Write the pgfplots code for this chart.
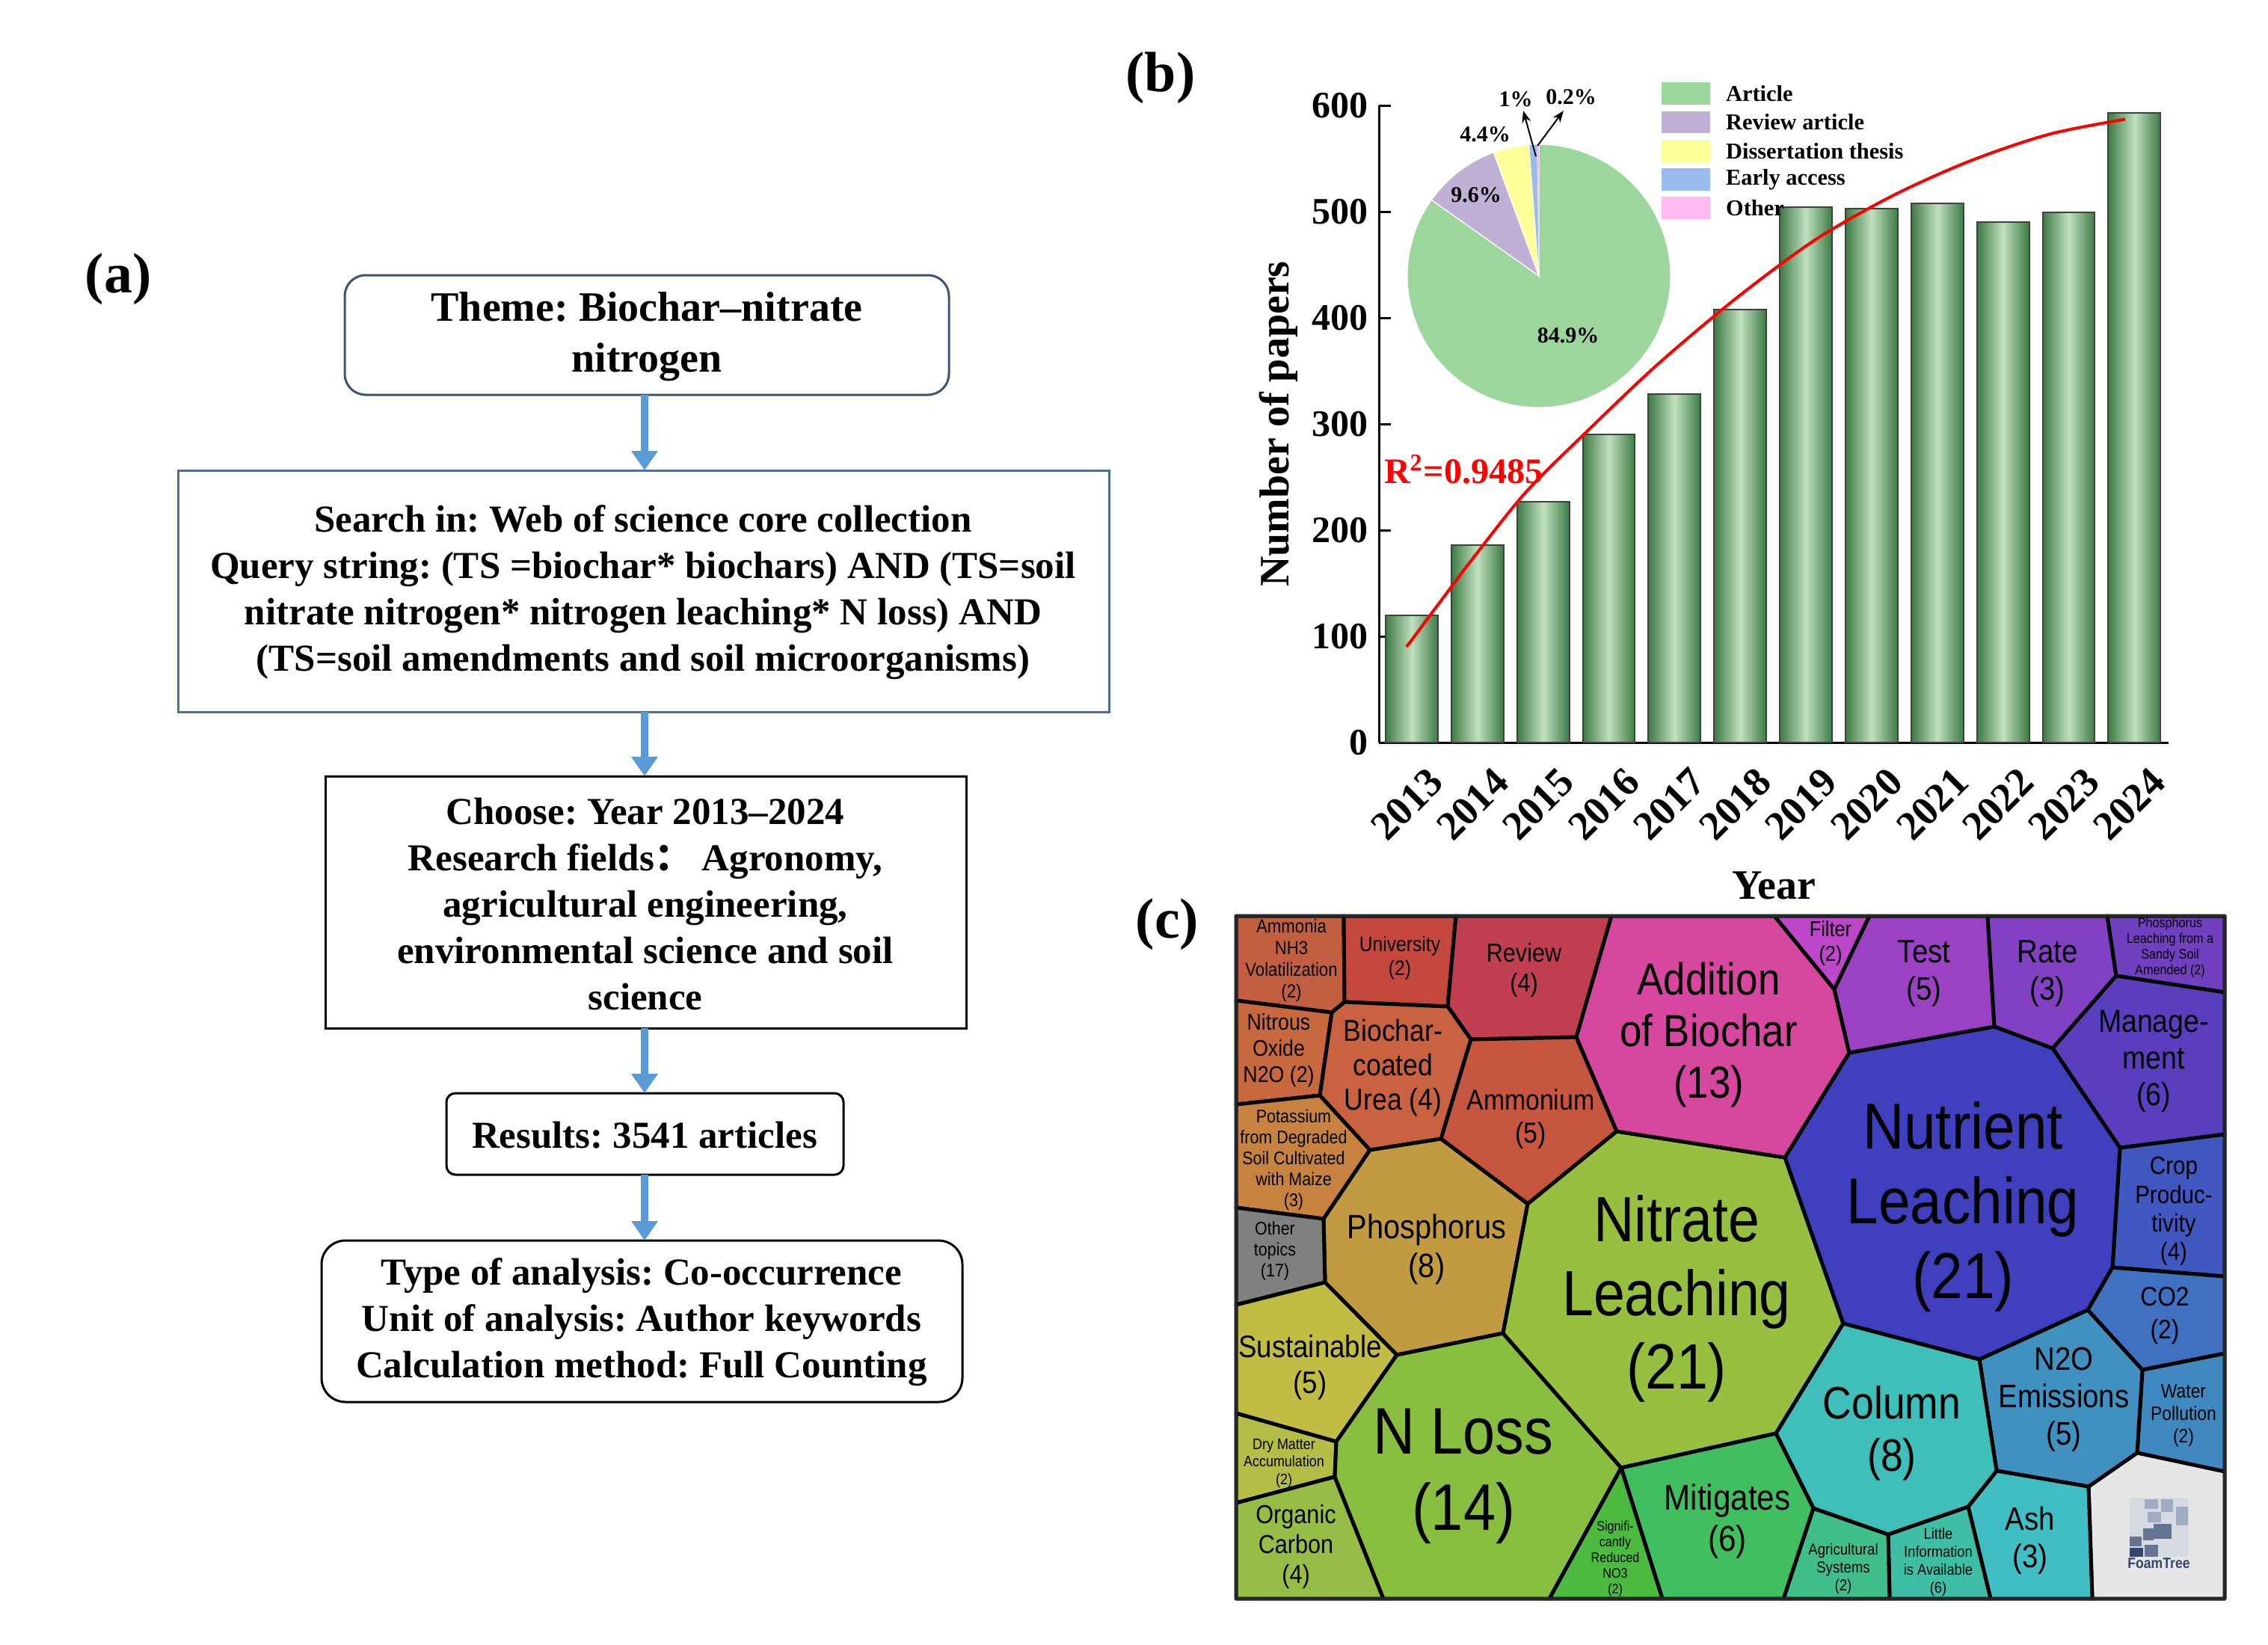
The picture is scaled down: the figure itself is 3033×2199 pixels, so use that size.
\documentclass[border=0pt]{standalone}
\usepackage{fontspec}
\setmainfont{Liberation Serif}
\newfontfamily\tfont[FakeStretch=0.88]{Liberation Sans}
\newfontfamily\cjk{Noto Sans CJK SC}
\usepackage{pgfplots}
\pgfplotsset{compat=1.18}
\usetikzlibrary{arrows.meta}
\newcommand\fsz[2]{\fontsize{#1pt}{#2pt}\selectfont}
\frenchspacing

% bars and pie
\definecolor{gdark}{RGB}{62,122,68}
\definecolor{glight}{RGB}{192,224,192}
\definecolor{cArt}{RGB}{156,214,156}
\definecolor{cRevA}{RGB}{192,176,214}
\definecolor{cDis}{RGB}{255,255,153}
\definecolor{cEar}{RGB}{153,187,238}
\definecolor{cOthA}{RGB}{255,187,240}
% flowchart
\definecolor{arrowblue}{RGB}{91,155,213}
\definecolor{boxA}{RGB}{59,84,112}
\definecolor{boxB}{RGB}{79,111,143}
% treemap
\definecolor{cAmm}{RGB}{195,95,65}
\definecolor{cUni}{RGB}{196,72,62}
\definecolor{cRev}{RGB}{192,64,82}
\definecolor{cNit}{RGB}{200,104,62}
\definecolor{cBio}{RGB}{200,98,64}
\definecolor{cAmmo}{RGB}{198,86,64}
\definecolor{cPot}{RGB}{200,130,64}
\definecolor{cPho}{RGB}{194,154,66}
\definecolor{cOth}{RGB}{128,128,128}
\definecolor{cSus}{RGB}{192,188,68}
\definecolor{cDry}{RGB}{180,190,70}
\definecolor{cOrg}{RGB}{150,190,70}
\definecolor{cNL}{RGB}{138,190,64}
\definecolor{cNtr}{RGB}{152,192,64}
\definecolor{cAdd}{RGB}{214,72,160}
\definecolor{cFil}{RGB}{190,70,200}
\definecolor{cTes}{RGB}{155,65,195}
\definecolor{cRat}{RGB}{130,65,195}
\definecolor{cPL}{RGB}{112,64,190}
\definecolor{cMan}{RGB}{90,62,190}
\definecolor{cCro}{RGB}{64,88,192}
\definecolor{cNut}{RGB}{64,64,190}
\definecolor{cCO}{RGB}{64,112,192}
\definecolor{cWat}{RGB}{64,136,192}
\definecolor{cN2O}{RGB}{64,144,192}
\definecolor{cFoam}{RGB}{230,230,230}
\definecolor{cAsh}{RGB}{64,190,196}
\definecolor{cLit}{RGB}{64,190,165}
\definecolor{cAgr}{RGB}{64,190,140}
\definecolor{cCol}{RGB}{64,190,186}
\definecolor{cMit}{RGB}{64,190,96}
\definecolor{cSig}{RGB}{76,186,64}
\definecolor{logoA}{RGB}{52,70,110}
\definecolor{logoB}{RGB}{100,116,146}
\definecolor{logoC}{RGB}{160,172,194}
\definecolor{logoD}{RGB}{214,218,226}

\pgfplotsset{
  gbar/.style={ybar, bar width=0.795, bar shift=0pt, draw=black!75, line width=0.5pt,
    left color=gdark, right color=gdark, middle color=glight},
  cell/.style={draw=black, line width=1.25pt, line join=round, fill=#1},
}

\begin{document}
\begin{tikzpicture}
\begin{scope}[x=0.25pt,y=-0.25pt]
\path[use as bounding box] (0,0) rectangle (3033,2199);

%% ---------------- (a) flowchart ----------------
\node[font=\bfseries\fsz{19}{19}] at (158,373) {(a)};
\begin{scope}[line width=0.75pt]
\draw[boxA, rounded corners=7pt] (461,368) rectangle (1269,528);
\node[font=\bfseries\fsz{14}{17}, align=center] at (865,450) {Theme: Biochar–nitrate\\nitrogen};
\draw[boxB] (238,629) rectangle (1483,952);
\node[font=\bfseries\fsz{12.75}{15.5}, align=center] at (860,792) {Search in: Web of science core collection\\Query string: (TS =biochar* biochars) AND (TS=soil\\nitrate nitrogen* nitrogen leaching* N loss) AND\\(TS=soil amendments and soil microorganisms)};
\draw[black] (435,1038) rectangle (1292,1375);
\node[font=\bfseries\fsz{12.75}{15.5}, align=center] at (863,1209) {Choose: Year 2013–2024\\Research fields{\cjk ：}\hspace{0.25em}Agronomy,\\agricultural engineering,\\environmental science and soil\\science};
\draw[black, rounded corners=3pt] (597,1462) rectangle (1128,1571);
\node[font=\bfseries\fsz{12.75}{15.5}, align=center] at (862,1518) {Results: 3541 articles};
\draw[black, rounded corners=8pt] (430,1659) rectangle (1287,1875);
\node[font=\bfseries\fsz{12.75}{15.5}, align=center] at (858,1768) {Type of analysis: Co-occurrence\\Unit of analysis: Author keywords\\Calculation method: Full Counting};
\end{scope}
\begin{scope}[arrowblue, line width=2.5pt, -{Triangle[width=8.5pt,length=6.5pt]}]
\draw (862,528) -- (862,629);
\draw (862,952) -- (862,1038);
\draw (862,1375) -- (862,1462);
\draw (862,1571) -- (862,1659);
\end{scope}

\node[font=\bfseries\fsz{19}{19}] at (1552,104) {(b)};
\node[font=\bfseries\fsz{19}{19}] at (1561,1236) {(c)};
\end{scope}

%% ---------------- (b) bar chart ----------------
\begin{axis}[
  at={(461pt,-248.25pt)}, anchor=south west,
  scale only axis, width=264pt, height=213pt,
  xmin=2012.5, xmax=2024.52, ymin=0, ymax=600,
  axis lines=left, axis line style={-, line width=0.75pt},
  xtick={2013,2014,...,2024}, ytick={0,100,...,600},
  tick align=inside, major tick length=4pt,
  tick style={line width=0.75pt, black},
  /pgf/number format/1000 sep={},
  /pgf/number format/assume math mode=true,
  tick label style={font=\bfseries\fsz{12.5}{12.5}},
  xticklabel style={font=\bfseries\fsz{13.6}{13.6}, xshift=10.5pt, yshift=-8.5pt, rotate=45, anchor=east},
  every axis y label/.style={at={(axis description cs:-0.127,0.5)}, rotate=90, anchor=center},
  every axis x label/.style={at={(axis description cs:0.5,-0.225)}, anchor=center},
  label style={font=\bfseries\fsz{14}{14}},
  ylabel={Number of papers}, xlabel={Year},
]
\addplot[gbar] coordinates {(2013,120)};
\addplot[gbar] coordinates {(2014,186)};
\addplot[gbar] coordinates {(2015,227)};
\addplot[gbar] coordinates {(2016,290)};
\addplot[gbar] coordinates {(2017,328)};
\addplot[gbar] coordinates {(2018,408)};
\addplot[gbar] coordinates {(2019,504)};
\addplot[gbar] coordinates {(2020,503)};
\addplot[gbar] coordinates {(2021,508)};
\addplot[gbar] coordinates {(2022,490)};
\addplot[gbar] coordinates {(2023,499)};
\addplot[gbar] coordinates {(2024,593)};
\addplot[red, line width=1pt, smooth] coordinates {
  (2012.92,90) (2013.39,129) (2013.95,175) (2014.74,236) (2015.70,295) (2016.74,356)
  (2017.93,418) (2019.13,473) (2020.32,515) (2021.51,548) (2022.71,573) (2023.86,587)};
\end{axis}

%% pie inset
\begin{axis}[
  at={(514.5pt,-92.25pt)}, anchor=center,
  scale only axis, width=88pt, height=88pt,
  xmin=-1, xmax=1, ymin=-1, ymax=1, hide axis, clip=false,
]
\fill[cArt, draw=white, line width=0.3pt] (axis cs:0,0) -- (axis cs:{cos(144.72)},{sin(144.72)}) arc[start angle=144.72, end angle=450, radius=44pt] -- cycle;
\fill[cRevA, draw=white, line width=0.3pt] (axis cs:0,0) -- (axis cs:{cos(110.16)},{sin(110.16)}) arc[start angle=110.16, end angle=144.72, radius=44pt] -- cycle;
\fill[cDis, draw=white, line width=0.3pt] (axis cs:0,0) -- (axis cs:{cos(94.32)},{sin(94.32)}) arc[start angle=94.32, end angle=110.16, radius=44pt] -- cycle;
\fill[cEar, draw=white, line width=0.2pt] (axis cs:0,0) -- (axis cs:{cos(90.72)},{sin(90.72)}) arc[start angle=90.72, end angle=94.32, radius=44pt] -- cycle;
\fill[cOthA] (axis cs:0,0) -- (axis cs:{cos(90)},{sin(90)}) arc[start angle=90, end angle=90.72, radius=44pt] -- cycle;
\end{axis}

%% ---------------- (c) treemap ----------------
\begin{axis}[
  at={(413.25pt,-306.25pt)}, anchor=north west,
  scale only axis, width=330.5pt, height=228.25pt,
  xmin=1653, xmax=2975, ymin=1225, ymax=2138, y dir=reverse,
  hide axis, clip=false,
]
\addplot[cell=cAmm] coordinates {(1653,1225) (1797,1225) (1798,1340) (1781,1354) (1653,1338)} -- cycle;
\addplot[cell=cUni] coordinates {(1797,1225) (1947,1225) (1936,1346) (1798,1340)} -- cycle;
\addplot[cell=cRev] coordinates {(1947,1225) (2155,1225) (2108,1387) (1967,1390) (1936,1346)} -- cycle;
\addplot[cell=cNit] coordinates {(1653,1338) (1781,1354) (1765,1465) (1653,1477)} -- cycle;
\addplot[cell=cBio] coordinates {(1798,1340) (1936,1346) (1967,1390) (1927,1523) (1832,1538) (1765,1465) (1781,1354)} -- cycle;
\addplot[cell=cAmmo] coordinates {(1967,1390) (2108,1387) (2162,1513) (2043,1610) (1927,1523)} -- cycle;
\addplot[cell=cPot] coordinates {(1653,1477) (1765,1465) (1832,1538) (1770,1630) (1653,1615)} -- cycle;
\addplot[cell=cPho] coordinates {(1832,1538) (1927,1523) (2043,1610) (2010,1783) (1868,1812) (1772,1715) (1770,1630)} -- cycle;
\addplot[cell=cOth] coordinates {(1653,1615) (1770,1630) (1772,1715) (1653,1745)} -- cycle;
\addplot[cell=cSus] coordinates {(1653,1745) (1772,1715) (1868,1812) (1787,1928) (1653,1890)} -- cycle;
\addplot[cell=cDry] coordinates {(1653,1890) (1787,1928) (1785,1975) (1653,2010)} -- cycle;
\addplot[cell=cOrg] coordinates {(1653,2010) (1785,1975) (1850,2138) (1653,2138)} -- cycle;
\addplot[cell=cNL] coordinates {(1787,1928) (1868,1812) (2010,1783) (2168,1963) (2072,2138) (1850,2138) (1785,1975)} -- cycle;
\addplot[cell=cNtr] coordinates {(2043,1610) (2162,1513) (2387,1548) (2465,1770) (2375,1917) (2168,1963) (2010,1783)} -- cycle;
\addplot[cell=cAdd] coordinates {(2155,1225) (2373,1225) (2453,1323) (2473,1408) (2387,1548) (2162,1513) (2108,1387)} -- cycle;
\addplot[cell=cFil] coordinates {(2373,1225) (2500,1225) (2453,1323)} -- cycle;
\addplot[cell=cTes] coordinates {(2500,1225) (2658,1225) (2667,1373) (2473,1408) (2453,1323)} -- cycle;
\addplot[cell=cRat] coordinates {(2658,1225) (2818,1225) (2830,1305) (2745,1402) (2667,1373)} -- cycle;
\addplot[cell=cPL] coordinates {(2818,1225) (2975,1225) (2975,1327) (2830,1305)} -- cycle;
\addplot[cell=cMan] coordinates {(2830,1305) (2975,1327) (2975,1517) (2835,1535) (2745,1402)} -- cycle;
\addplot[cell=cCro] coordinates {(2835,1535) (2975,1517) (2975,1707) (2825,1695)} -- cycle;
\addplot[cell=cNut] coordinates {(2387,1548) (2473,1408) (2667,1373) (2745,1402) (2835,1535) (2825,1695) (2792,1752) (2647,1818) (2465,1770)} -- cycle;
\addplot[cell=cCO] coordinates {(2825,1695) (2975,1707) (2975,1810) (2865,1832) (2792,1752)} -- cycle;
\addplot[cell=cWat] coordinates {(2865,1832) (2975,1810) (2975,1968) (2858,1943)} -- cycle;
\addplot[cell=cFoam] coordinates {(2858,1943) (2975,1968) (2975,2138) (2798,2138) (2793,1988)} -- cycle;
\addplot[cell=cN2O] coordinates {(2647,1818) (2792,1752) (2865,1832) (2858,1943) (2793,1988) (2670,1967)} -- cycle;
\addplot[cell=cAsh] coordinates {(2670,1967) (2793,1988) (2798,2138) (2662,2138) (2632,2015)} -- cycle;
\addplot[cell=cLit] coordinates {(2632,2015) (2662,2138) (2527,2138) (2525,2052)} -- cycle;
\addplot[cell=cAgr] coordinates {(2525,2052) (2527,2138) (2385,2138) (2425,2017)} -- cycle;
\addplot[cell=cCol] coordinates {(2465,1770) (2647,1818) (2670,1967) (2632,2015) (2525,2052) (2425,2017) (2375,1917)} -- cycle;
\addplot[cell=cMit] coordinates {(2168,1963) (2375,1917) (2425,2017) (2385,2138) (2223,2138)} -- cycle;
\addplot[cell=cSig] coordinates {(2168,1963) (2223,2138) (2072,2138)} -- cycle;
\draw[black!85, line width=0.9pt] (axis cs:1653,1225) rectangle (axis cs:2975,2138);
% FoamTree logo
\fill[logoD, rounded corners=1pt] (axis cs:2848,2003) rectangle (axis cs:2927,2082);
\fill[logoC] (axis cs:2868,2005) rectangle (axis cs:2886,2018);
\fill[logoC] (axis cs:2890,2005) rectangle (axis cs:2906,2022);
\fill[logoC] (axis cs:2872,2022) rectangle (axis cs:2890,2036);
\fill[logoC] (axis cs:2910,2015) rectangle (axis cs:2926,2040);
\fill[logoB] (axis cs:2880,2038) rectangle (axis cs:2904,2058);
\fill[logoB] (axis cs:2866,2044) rectangle (axis cs:2880,2060);
\fill[logoB] (axis cs:2848,2055) rectangle (axis cs:2864,2068);
\fill[logoB] (axis cs:2868,2066) rectangle (axis cs:2886,2082);
\fill[logoA] (axis cs:2848,2070) rectangle (axis cs:2866,2082);
\node[logoA, font=\tfont\bfseries\fsz{5}{5}] at (axis cs:2887,2091) {FoamTree};
% labels
\begin{scope}[align=center, inner sep=0pt]
\node[font=\tfont\fsz{21.7}{25}] at (axis cs:2625,1614) {Nutrient\\Leaching\\(21)};
\node[font=\tfont\fsz{21.4}{24.6}] at (axis cs:2242,1737) {Nitrate\\Leaching\\(21)};
\node[font=\tfont\fsz{22}{25.5}] at (axis cs:1957,1974) {N Loss\\(14)};
\node[font=\tfont\fsz{15}{17.25}] at (axis cs:2285,1384) {Addition\\of Biochar\\(13)};
\node[font=\tfont\fsz{15.2}{17.5}] at (axis cs:2530,1917) {Column\\(8)};
\node[font=\tfont\fsz{12}{13.75}] at (axis cs:2310,2035) {Mitigates\\(6)};
\node[font=\tfont\fsz{11.3}{13}] at (axis cs:1908,1671) {Phosphorus\\(8)};
\node[font=\tfont\fsz{10.9}{12.5}] at (axis cs:2760,1872) {N2O\\Emissions\\(5)};
\node[font=\tfont\fsz{10.9}{12.5}] at (axis cs:2573,1302) {Test\\(5)};
\node[font=\tfont\fsz{10.9}{12.5}] at (axis cs:2738,1302) {Rate\\(3)};
\node[font=\tfont\fsz{10.65}{12.25}] at (axis cs:2880,1419) {Manage-\\ment\\(6)};
\node[font=\tfont\fsz{10.9}{12.5}] at (axis cs:2715,2060) {Ash\\(3)};
\node[font=\tfont\fsz{10.4}{12}] at (axis cs:1752,1829) {Sustainable\\(5)};
\node[font=\tfont\fsz{10.1}{11.6}] at (axis cs:1863,1428) {Biochar-\\coated\\Urea (4)};
\node[font=\tfont\fsz{9.6}{11}] at (axis cs:2047,1497) {Ammonium\\(5)};
\node[font=\tfont\fsz{9}{11}] at (axis cs:2895,1760) {CO2\\(2)};
\node[font=\tfont\fsz{8.7}{10}] at (axis cs:2038,1297) {Review\\(4)};
\node[font=\tfont\fsz{8.7}{10}] at (axis cs:1733,2068) {Organic\\Carbon\\(4)};
\node[font=\tfont\fsz{8.4}{9.6}] at (axis cs:2907,1620) {Crop\\Produc-\\tivity\\(4)};
\node[font=\tfont\fsz{7.6}{8.75}] at (axis cs:1710,1405) {Nitrous\\Oxide\\N2O (2)};
\node[font=\tfont\fsz{7.2}{8.25}] at (axis cs:2448,1262) {Filter\\(2)};
\node[font=\tfont\fsz{7}{8}] at (axis cs:1872,1281) {University\\(2)};
\node[font=\tfont\fsz{6.5}{7.5}] at (axis cs:2920,1893) {Water\\Pollution\\(2)};
\node[font=\tfont\fsz{6.3}{7.25}] at (axis cs:1727,1284) {Ammonia\\NH3\\Volatilization\\(2)};
\node[font=\tfont\fsz{6.1}{7}] at (axis cs:1730,1551) {Potassium\\from Degraded\\Soil Cultivated\\with Maize\\(3)};
\node[font=\tfont\fsz{6.1}{7}] at (axis cs:1705,1673) {Other\\topics\\(17)};
\node[font=\tfont\fsz{5.3}{6.1}] at (axis cs:2465,2098) {Agricultural\\Systems\\(2)};
\node[font=\tfont\fsz{5.2}{6}] at (axis cs:2592,2089) {Little\\Information\\is Available\\(6)};
\node[font=\tfont\fsz{5.1}{5.9}] at (axis cs:1717,1957) {Dry Matter\\Accumulation\\(2)};
\node[font=\tfont\fsz{4.6}{5.25}] at (axis cs:2160,2085) {Signifi-\\cantly\\Reduced\\NO3\\(2)};
\node[font=\tfont\fsz{4.6}{5.25}] at (axis cs:2902,1267) {Phosphorus\\Leaching from a\\Sandy Soil\\Amended (2)};
\end{scope}
\end{axis}

%% texts and legend of panel (b)
\begin{scope}[x=0.25pt,y=-0.25pt]
\node[red, font=\bfseries\fsz{12}{12}] at (1957,628) {R\textsuperscript{2}=0.9485};
\begin{scope}[font=\bfseries\fsz{7.5}{7.5}]
\node at (2097,449) {84.9\%};
\node at (1974,261) {9.6\%};
\node at (1986,180) {4.4\%};
\node at (2027,133) {1\%};
\node at (2101,130) {0.2\%};
\end{scope}
\draw[line width=0.5pt, -{Stealth[length=4pt,width=3pt]}] (2054,209) -- (2037,148);
\draw[line width=0.5pt, -{Stealth[length=4pt,width=3pt]}] (2056,195) -- (2091,148);
\begin{scope}[font=\bfseries\fsz{7.6}{7.6}]
\fill[cArt]   (2222,110) rectangle (2287,140);
\fill[cRevA]  (2222,149) rectangle (2287,178);
\fill[cDis]   (2222,187) rectangle (2287,217);
\fill[cEar]   (2222,225) rectangle (2287,255);
\fill[cOthA]  (2222,263) rectangle (2287,293);
\node[anchor=west] at (2294,125) {Article};
\node[anchor=west] at (2294,163.5) {Review article};
\node[anchor=west] at (2294,202) {Dissertation thesis};
\node[anchor=west] at (2294,240) {Early access};
\node[anchor=west] at (2294,278) {Other};
\end{scope}
\end{scope}
\end{tikzpicture}
\end{document}
